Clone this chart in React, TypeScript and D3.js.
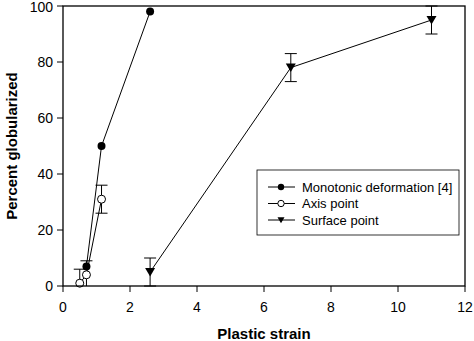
import React from "react";
import * as d3 from "d3";

// monotonic deformation [4]
const monoX = [0.7, 1.15, 2.6];
const monoY = [7, 50, 98];
// axis point
const axisX = [0.5, 0.7, 1.15];
const axisY = [1, 4, 31];
const axisErr = [5, 5, 5];
// surface point
const surfX = [2.6, 6.8, 11];
const surfY = [5, 78, 95];
const surfErr = [5, 5, 5];

const xTicks = [0, 2, 4, 6, 8, 10, 12];
const yTicks = [0, 20, 40, 60, 80, 100];

const W = 474;
const H = 341;
const m = { left: 63, right: 9, top: 6, bottom: 55 };

const App = () => {
  const x = d3.scaleLinear().domain([0, 12]).range([m.left, W - m.right]);
  const y = d3.scaleLinear().domain([0, 100]).range([H - m.bottom, m.top]);
  const line = d3.line<[number, number]>().x(d => x(d[0])).y(d => y(d[1]));
  const zip = (a: number[], b: number[]) => a.map((v, i) => [v, b[i]] as [number, number]);

  const clampY = (v: number) => Math.max(0, Math.min(100, v));
  const errBars = (xs: number[], ys: number[], es: number[], key: string) =>
    xs.map((xv, i) => {
      const hi = ys[i] + es[i];
      const lo = ys[i] - es[i];
      const cx = x(xv);
      return (
        <g key={key + i} stroke="#000" strokeWidth={1}>
          <line x1={cx} x2={cx} y1={y(clampY(hi))} y2={y(clampY(lo))} />
          {hi <= 100 && <line x1={cx - 6} x2={cx + 6} y1={y(hi)} y2={y(hi)} />}
          {lo >= 0 && <line x1={cx - 6} x2={cx + 6} y1={y(lo)} y2={y(lo)} />}
        </g>
      );
    });

  const tri = (cx: number, cy: number, s = 5) =>
    `M${cx - s},${cy - s * 0.8}L${cx + s},${cy - s * 0.8}L${cx},${cy + s * 0.9}Z`;

  const font = "Arial, 'Liberation Sans', sans-serif";
  const legX = 257;
  const legY = 170;
  const legRows = ["Monotonic deformation [4]", "Axis point", "Surface point"];

  return (
    <svg width={W} height={H} style={{ position: "absolute", left: 0, top: 0 }} fontFamily={font}>
      <rect width={W} height={H} fill="#fff" />
      {errBars(axisX, axisY, axisErr, "a")}
      {errBars(surfX, surfY, surfErr, "s")}
      <path d={line(zip(monoX, monoY)) || ""} fill="none" stroke="#000" />
      <path d={line(zip(axisX, axisY)) || ""} fill="none" stroke="#000" />
      <path d={line(zip(surfX, surfY)) || ""} fill="none" stroke="#000" />
      {monoX.map((v, i) => (
        <circle key={"m" + i} cx={x(v)} cy={y(monoY[i])} r={4} fill="#000" />
      ))}
      {axisX.map((v, i) => (
        <circle key={"o" + i} cx={x(v)} cy={y(axisY[i])} r={4} fill="#fff" stroke="#000" />
      ))}
      {surfX.map((v, i) => (
        <path key={"t" + i} d={tri(x(v), y(surfY[i]))} fill="#000" />
      ))}
      <rect x={m.left} y={m.top} width={W - m.left - m.right} height={H - m.top - m.bottom} fill="none" stroke="#000" strokeWidth={1.3} />
      {xTicks.map(t => (
        <g key={"x" + t}>
          <line x1={x(t)} x2={x(t)} y1={y(0)} y2={y(0) + 6} stroke="#000" />
          <text x={x(t)} y={y(0) + 26} textAnchor="middle" fontSize={14}>{t}</text>
        </g>
      ))}
      {yTicks.map(t => (
        <g key={"y" + t}>
          <line x1={m.left - 6} x2={m.left} y1={y(t)} y2={y(t)} stroke="#000" />
          <text x={m.left - 10} y={Math.max(y(t) + 5, 12)} textAnchor="end" fontSize={14}>{t}</text>
        </g>
      ))}
      <text x={(x(0) + x(12)) / 2} y={339} textAnchor="middle" fontSize={15} fontWeight="bold">Plastic strain</text>
      <text transform={`translate(17,${(y(0) + y(100)) / 2}) rotate(-90)`} textAnchor="middle" fontSize={15} fontWeight="bold">Percent globularized</text>
      <rect x={legX} y={legY} width={202} height={65} fill="#fff" stroke="#000" strokeWidth={0.8} />
      {legRows.map((r, i) => {
        const ly = legY + 17 + i * 16.5;
        return (
          <g key={r}>
            <line x1={268} x2={295} y1={ly} y2={ly} stroke="#000" />
            {i === 0 && <circle cx={281} cy={ly} r={3.2} fill="#000" />}
            {i === 1 && <circle cx={281} cy={ly} r={3.2} fill="#fff" stroke="#000" />}
            {i === 2 && <path d={tri(281, ly, 3.5)} fill="#000" />}
            <text x={302} y={ly + 4.5} fontSize={13}>{r}</text>
          </g>
        );
      })}
    </svg>
  );
};

export default App;
